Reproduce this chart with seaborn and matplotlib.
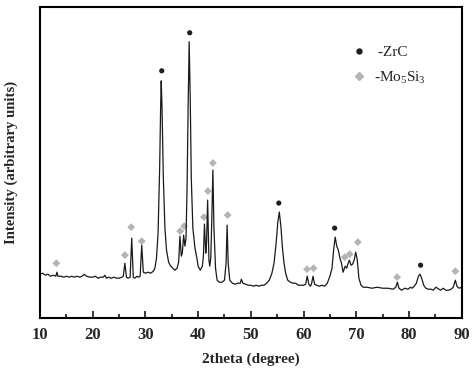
import numpy as np
import pandas as pd
import matplotlib
matplotlib.use("Agg")
import matplotlib.pyplot as plt
import seaborn as sns
from matplotlib.lines import Line2D
from matplotlib.ticker import MultipleLocator

# ---- traced XRD pattern (2theta, intensity a.u.) ----
two_theta = [10.0, 10.5, 11.0, 11.5, 12.0, 12.5, 13.0, 13.2, 13.4, 14.0, 14.5, 15.0, 15.5, 16.0,
             16.5, 17.0, 17.5, 18.0, 18.4, 18.8, 19.5, 20.0, 20.5, 21.0, 21.5, 22.0, 22.3, 22.6,
             23.0, 23.5, 24.0, 24.5, 25.0, 25.5, 25.8, 26.1, 26.4, 26.7, 27.1, 27.4, 27.7, 28.0,
             28.4, 28.7, 29.0, 29.3, 29.6, 30.0, 30.5, 31.0, 31.5, 31.8, 32.1, 32.4, 32.7, 32.9,
             33.0, 33.15, 33.4, 33.7, 34.0, 34.4, 34.8, 35.2, 35.6, 36.0, 36.3, 36.55, 36.8, 37.0,
             37.25, 37.5, 37.7, 37.9, 38.1, 38.3, 38.5, 38.7, 39.0, 39.4, 39.7, 40.0, 40.4, 40.8,
             41.0, 41.2, 41.45, 41.6, 41.8, 42.05, 42.2, 42.4, 42.6, 42.8, 43.0, 43.3, 43.6, 44.0,
             44.5, 45.0, 45.3, 45.5, 45.7, 46.0, 46.5, 47.0, 47.5, 48.0, 48.2, 48.5, 49.0, 49.5,
             50.0, 50.5, 51.0, 51.5, 52.0, 52.5, 53.0, 53.5, 54.0, 54.4, 54.8, 55.1, 55.4, 55.7,
             56.0, 56.3, 56.6, 57.0, 57.5, 58.0, 58.5, 59.0, 59.5, 60.0, 60.4, 60.7, 61.0, 61.3,
             61.5, 61.8, 62.1, 62.5, 63.0, 63.5, 64.0, 64.5, 65.0, 65.4, 65.7, 66.0, 66.3, 66.6,
             66.9, 67.2, 67.5, 67.9, 68.2, 68.4, 68.7, 69.0, 69.3, 69.6, 69.9, 70.2, 70.5, 70.9,
             71.3, 72.0, 73.0, 74.0, 75.0, 76.0, 77.0, 77.5, 77.8, 78.1, 78.6, 79.2, 79.8, 80.3,
             80.6, 81.0, 81.4, 81.8, 82.1, 82.4, 82.8, 83.2, 83.7, 84.2, 84.6, 85.1, 85.4, 86.0,
             86.5, 87.0, 87.5, 88.0, 88.4, 88.8, 89.1, 89.5, 90.0]
intensity = [44, 45, 43, 44, 42, 43, 42, 46, 42, 42, 41, 42, 41, 42,
             41, 42, 41, 42, 44, 42, 41, 41, 42, 40, 41, 41, 43, 40,
             41, 40, 41, 40, 40, 41, 42, 55, 41, 40, 41, 80, 41, 40,
             42, 41, 42, 73, 46, 45, 46, 45, 47, 50, 60, 85, 150, 215,
             237, 210, 140, 90, 68, 56, 52, 50, 48, 50, 56, 82, 62, 65,
             83, 72, 80, 130, 210, 276, 220, 140, 90, 70, 62, 52, 48, 52,
             62, 94, 65, 75, 118, 58, 52, 60, 100, 148, 90, 50, 38, 36,
             36, 38, 55, 93, 55, 38, 35, 34, 35, 35, 39, 35, 34, 33,
             33, 32, 33, 32, 33, 33, 35, 38, 45, 55, 75, 95, 106, 92,
             70, 55, 45, 38, 36, 35, 35, 33, 33, 33, 34, 42, 34, 32,
             34, 42, 34, 33, 32, 33, 32, 35, 42, 50, 68, 81, 72, 68,
             60, 55, 46, 52, 50, 54, 58, 53, 54, 58, 66, 58, 40, 33,
             31, 31, 30, 31, 30, 30, 29, 31, 36, 30, 28, 30, 29, 31,
             30, 32, 35, 42, 44, 40, 33, 30, 29, 29, 28, 31, 30, 28,
             30, 28, 28, 29, 31, 38, 32, 30, 31]

# ---- phase markers ----
zrc_theta = [33.1, 38.4, 55.3, 65.9, 82.2]
zrc_int = [247, 285, 115, 90, 53]
mosi_theta = [13.1, 26.1, 27.3, 29.3, 36.6, 37.35, 41.1, 41.85, 42.8, 45.6,
              60.65, 61.9, 67.8, 68.75, 70.3, 77.75, 88.8]
mosi_int = [55, 63, 91, 77, 87, 92, 101, 127, 155, 103,
            49, 50, 61, 64, 76, 41, 47]

x_ticks = [10, 20, 30, 40, 50, 60, 70, 80, 90]

sns.set_style("ticks")
plt.rcParams['font.family'] = ['Liberation Serif', 'DejaVu Serif']
plt.rcParams['mathtext.fontset'] = 'custom'
plt.rcParams['mathtext.rm'] = 'Liberation Serif'
plt.rcParams['mathtext.it'] = 'Liberation Serif:italic'

fig = plt.figure(figsize=(4.74, 3.72), dpi=100)
ax = fig.add_axes([0.0844, 0.1444, 0.8896, 0.8376])

df = pd.DataFrame({"2theta": two_theta, "I": intensity})
sns.lineplot(data=df, x="2theta", y="I", ax=ax, color="#1a1a1a", lw=0.9,
             estimator=None, sort=False, legend=False)

zdf = pd.DataFrame({"x": zrc_theta, "y": zrc_int})
mdf = pd.DataFrame({"x": mosi_theta, "y": mosi_int})
sns.scatterplot(data=zdf, x="x", y="y", ax=ax, marker="o", s=14,
                color="#1f1f1f", edgecolor="none", legend=False)
sns.scatterplot(data=mdf, x="x", y="y", ax=ax, marker="D", s=16,
                color="#b4b4b4", edgecolor="none", legend=False)

ax.set_xlim(10, 90)
ax.set_ylim(0, 311)
ax.set_xticks(x_ticks)
ax.xaxis.set_minor_locator(MultipleLocator(5))
ax.set_yticks([])
ax.tick_params(axis="x", which="major", direction="in", length=5, width=1.3,
               labelsize=12, pad=6)
ax.tick_params(axis="x", which="minor", direction="in", length=3, width=1.3)
for lab in ax.get_xticklabels():
    lab.set_fontweight("bold")
for sp in ax.spines.values():
    sp.set_linewidth(1.5)
    sp.set_color("black")

ax.set_xlabel("2theta (degree)", fontsize=11, fontweight="bold", labelpad=7)
ax.set_ylabel("Intensity (arbitrary units)", fontsize=10.6, fontweight="bold", labelpad=16)

handles = [Line2D([], [], marker="o", ls="none", color="#1f1f1f", markersize=3.6),
           Line2D([], [], marker="D", ls="none", color="#b4b4b4", markersize=3.8)]
ax.legend(handles, [" -ZrC", "-Mo$_5$Si$_3$"], loc="upper left",
          bbox_to_anchor=(0.705, 0.92), frameon=False, fontsize=11,
          handletextpad=0.5, labelspacing=0.7, handlelength=1.0,
          labelcolor="#222222")

fig.savefig("out.png", dpi=100)
